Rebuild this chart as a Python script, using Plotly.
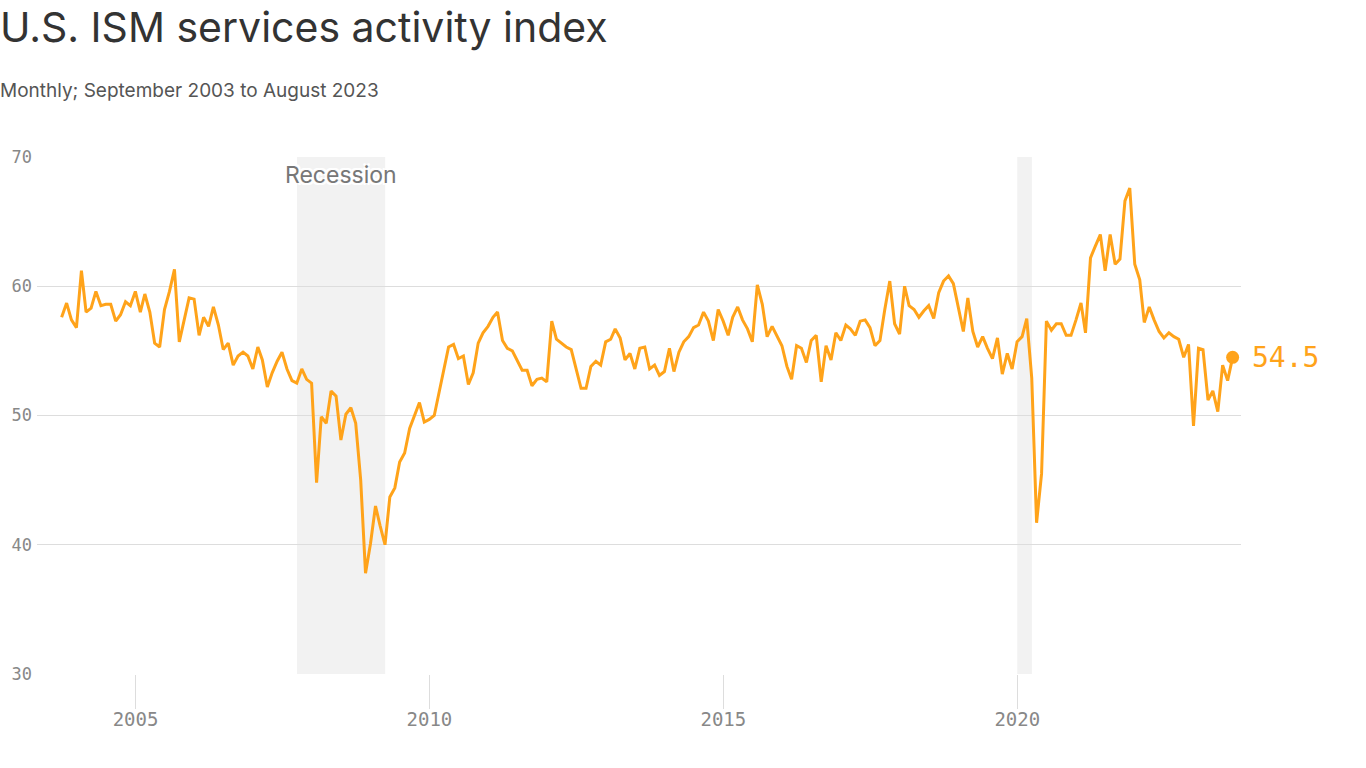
import pandas as pd
import plotly.graph_objects as go

# ISM services PMI, monthly, Sep 2003 - Aug 2023
ism_values = [
    57.6, 58.7, 57.4, 56.8,                                                # 2003 (Sep-Dec)
    61.2, 58.0, 58.3, 59.6, 58.5, 58.6, 58.6, 57.3, 57.8, 58.8, 58.5, 59.6,  # 2004
    58.0, 59.4, 58.0, 55.6, 55.3, 58.2, 59.6, 61.3, 55.7, 57.4, 59.1, 59.0,  # 2005
    56.2, 57.6, 56.9, 58.4, 57.0, 55.1, 55.6, 53.9, 54.6, 54.9, 54.6, 53.6,  # 2006
    55.3, 54.3, 52.2, 53.3, 54.2, 54.9, 53.6, 52.7, 52.5, 53.6, 52.8, 52.5,  # 2007
    44.8, 49.9, 49.4, 51.9, 51.5, 48.1, 50.1, 50.6, 49.4, 45.0, 37.8, 40.1,  # 2008
    43.0, 41.5, 40.0, 43.7, 44.4, 46.4, 47.1, 49.0, 50.0, 51.0, 49.5, 49.7,  # 2009
    50.0, 51.7, 53.3, 55.3, 55.5, 54.4, 54.6, 52.4, 53.3, 55.6, 56.4, 56.9,  # 2010
    57.6, 58.0, 55.8, 55.2, 55.0, 54.2, 53.5, 53.5, 52.3, 52.8, 52.9, 52.6,  # 2011
    57.3, 55.9, 55.6, 55.3, 55.1, 53.5, 52.1, 52.1, 53.8, 54.2, 53.9, 55.7,  # 2012
    55.9, 56.7, 56.0, 54.3, 54.8, 53.6, 55.2, 55.3, 53.6, 53.9, 53.1, 53.4,  # 2013
    55.2, 53.4, 54.9, 55.7, 56.1, 56.8, 57.0, 58.0, 57.3, 55.8, 58.2, 57.3,  # 2014
    56.2, 57.6, 58.4, 57.4, 56.7, 55.7, 60.1, 58.6, 56.1, 56.9, 56.1, 55.4,  # 2015
    53.8, 52.8, 55.4, 55.2, 54.1, 55.8, 56.2, 52.6, 55.4, 54.3, 56.4, 55.8,  # 2016
    57.0, 56.7, 56.2, 57.3, 57.4, 56.8, 55.4, 55.8, 58.2, 60.4, 57.1, 56.3,  # 2017
    60.0, 58.5, 58.2, 57.6, 58.1, 58.5, 57.5, 59.5, 60.4, 60.8, 60.2, 58.4,  # 2018
    56.5, 59.1, 56.5, 55.3, 56.1, 55.2, 54.4, 56.0, 53.2, 54.8, 53.6, 55.7,  # 2019
    56.1, 57.5, 52.9, 41.7, 45.5, 57.3, 56.6, 57.1, 57.1, 56.2, 56.2, 57.4,  # 2020
    58.7, 56.4, 62.2, 63.1, 64.0, 61.2, 64.0, 61.7, 62.1, 66.6, 67.6, 61.7,  # 2021
    60.5, 57.2, 58.4, 57.4, 56.5, 56.0, 56.4, 56.1, 55.9, 54.5, 55.5, 49.2,  # 2022
    55.2, 55.1, 51.2, 51.9, 50.3, 53.9, 52.7, 54.5,                          # 2023 (Jan-Aug)
]
months = pd.date_range("2003-09-30", periods=len(ism_values), freq="ME")

recession_starts = ["2007-10-01", "2020-01-01"]
recession_ends = ["2009-04-01", "2020-04-01"]

x_ticks = ["2005-01-01", "2010-01-01", "2015-01-01", "2020-01-01"]
x_tick_labels = ["2005", "2010", "2015", "2020"]
y_ticks = [30, 40, 50, 60, 70]

ORANGE = "#ffa31a"
MONO = "DejaVu Sans Mono"
SANS = "Inter"

fig = go.Figure()

fig.add_trace(go.Scatter(
    x=months, y=ism_values, mode="lines",
    line=dict(color=ORANGE, width=3), hoverinfo="x+y",
))
# end-point dot
fig.add_trace(go.Scatter(
    x=[months[-1]], y=[ism_values[-1]], mode="markers",
    marker=dict(color=ORANGE, size=13), hoverinfo="skip",
))

for s, e in zip(recession_starts, recession_ends):
    fig.add_shape(type="rect", xref="x", yref="paper", x0=s, x1=e, y0=0, y1=1,
                  fillcolor="#f2f2f2", line_width=0, layer="below")

fig.add_annotation(x="2008-07-01", y=68.6, text="Recession", showarrow=False,
                   font=dict(family=SANS, size=23, color="#777",
                             shadow="-2px -2px 0 #fff, 2px -2px 0 #fff, -2px 2px 0 #fff, 2px 2px 0 #fff"))

fig.add_annotation(x=months[-1], y=ism_values[-1], text=f"{ism_values[-1]}",
                   showarrow=False, xanchor="left", xshift=17,
                   font=dict(family=MONO, size=28, color=ORANGE))

# title and subtitle
fig.add_annotation(xref="paper", yref="paper", x=0, y=1, xanchor="left", yanchor="middle",
                   xshift=-39, yshift=130, showarrow=False,
                   text="U.S. ISM services activity index",
                   font=dict(family=SANS, size=41, color="#333"))
fig.add_annotation(xref="paper", yref="paper", x=0, y=1, xanchor="left", yanchor="middle",
                   xshift=-39, yshift=67, showarrow=False,
                   text="Monthly; September 2003 to August 2023",
                   font=dict(family=SANS, size=19, color="#555"))

fig.update_layout(
    width=1366, height=768,
    margin=dict(l=37, r=125, t=157, b=94),
    paper_bgcolor="white", plot_bgcolor="white",
    showlegend=False,
    xaxis=dict(
        range=["2003-04-30", "2023-10-22"],
        tickvals=x_ticks, ticktext=x_tick_labels,
        showgrid=False, zeroline=False, showline=False,
        ticks="outside", ticklen=34, tickcolor="#dddddd", tickwidth=1,
        ticklabelstandoff=-6,
        tickfont=dict(family=MONO, size=19, color="#888"),
    ),
    yaxis=dict(
        range=[30, 70], tickvals=y_ticks,
        showgrid=True, gridcolor="#dddddd", gridwidth=1,
        zeroline=False, showline=False, ticklabelstandoff=4,
        tickfont=dict(family=MONO, size=17, color="#888"),
    ),
)

fig.write_html("out.html", config={"displayModeBar": False},
               post_script="document.body.style.margin='0';")
